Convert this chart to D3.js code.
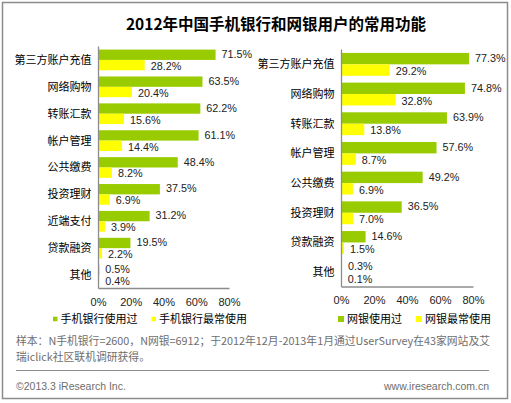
<!DOCTYPE html>
<html>
<head>
<meta charset="utf-8">
<script src="https://cdn.jsdelivr.net/npm/d3@7"></script>
<style>
  body { margin: 0; background: #fff; }
  svg text { font-family: "Liberation Sans", "Noto Sans CJK SC", sans-serif; }
  .cjk { font-family: "Noto Sans CJK SC", "Liberation Sans", sans-serif; }
</style>
</head>
<body>
<div id="chart"></div>
<script>
// chart data
var title = "2012年中国手机银行和网银用户的常用功能";

var mobileCats = ["第三方账户充值","网络购物","转账汇款","帐户管理","公共缴费","投资理财","近端支付","贷款融资","其他"];
var mobileUsed = [71.5, 63.5, 62.2, 61.1, 48.4, 37.5, 31.2, 19.5, 0.5];
var mobileMost = [28.2, 20.4, 15.6, 14.4, 8.2, 6.9, 3.9, 2.2, 0.4];
var mobileSeries = ["手机银行使用过","手机银行最常使用"];

var webCats = ["第三方账户充值","网络购物","转账汇款","帐户管理","公共缴费","投资理财","贷款融资","其他"];
var webUsed = [77.3, 74.8, 63.9, 57.6, 49.2, 36.5, 14.6, 0.3];
var webMost = [29.2, 32.8, 13.8, 8.7, 6.9, 7.0, 1.5, 0.1];
var webSeries = ["网银使用过","网银最常使用"];

var xTicks = [0, 20, 40, 60, 80];
var note1 = "样本：N手机银行=2600，N网银=6912；于2012年12月-2013年1月通过UserSurvey在43家网站及艾";
var note2 = "瑞iclick社区联机调研获得。";
var copyright = "©2013.3 iResearch Inc.";
var site = "www.iresearch.com.cn";

var colors = ["#99cc00", "#ffff00"];
var axisColor = "#8c8c8c";

var W = 511, H = 403;
var svg = d3.select("#chart").append("svg")
  .attr("width", W)
  .attr("height", H);

// outer frame
svg.append("rect")
  .attr("x", 2.5).attr("y", 2.5)
  .attr("width", 505).attr("height", 396)
  .attr("fill", "#fff")
  .attr("stroke", "#8c8c8c")
  .attr("stroke-width", 1.5);

svg.append("text")
  .attr("class", "cjk")
  .attr("x", 276).attr("y", 30)
  .attr("text-anchor", "middle")
  .attr("font-size", 15.5)
  .attr("font-weight", "bold")
  .attr("fill", "#000")
  .text(title);

// draws one bar panel
function drawPanel(opt) {
  var g = svg.append("g");
  var x = d3.scaleLinear().domain([0, 80]).range([opt.x0, opt.x1]);
  var y = d3.scaleBand().domain(opt.cats).range([opt.y0, opt.y1])
    .paddingInner(0.23).paddingOuter(0.115);
  var sub = d3.scaleBand().domain([0, 1]).range([0, y.bandwidth()]);

  var rows = opt.cats.map(function(c, i) {
    return {cat: c, vals: [opt.used[i], opt.most[i]]};
  });

  var grp = g.selectAll("g.row").data(rows).enter()
    .append("g").attr("class", "row")
    .attr("transform", function(d) { return "translate(0," + y(d.cat) + ")"; });

  grp.selectAll("rect").data(function(d) { return d.vals; }).enter()
    .append("rect")
    .attr("x", x(0))
    .attr("y", function(d, i) { return sub(i); })
    .attr("width", function(d) { return x(d) - x(0); })
    .attr("height", sub.bandwidth())
    .attr("fill", function(d, i) { return colors[i]; });

  // value labels, nudged apart a little so the pair never collides
  grp.selectAll("text.val").data(function(d) { return d.vals; }).enter()
    .append("text").attr("class", "val")
    .attr("x", function(d) { return x(d) + 6; })
    .attr("y", function(d, i) { return sub(i) + sub.bandwidth() / 2 + 4 + (i ? 0.8 : -0.8); })
    .attr("font-size", 10.8)
    .attr("fill", "#222")
    .text(function(d) { return d.toFixed(1) + "%"; });

  // category labels
  grp.append("text")
    .attr("class", "cjk")
    .attr("x", x(0) - 7)
    .attr("y", y.bandwidth() / 2 + 4)
    .attr("text-anchor", "end")
    .attr("font-size", 11)
    .attr("fill", "#000")
    .text(function(d) { return d.cat; });

  // axes lines
  g.append("line")
    .attr("x1", x(0)).attr("x2", x(0))
    .attr("y1", opt.y0).attr("y2", opt.y1)
    .attr("stroke", axisColor).attr("stroke-width", 1.3);
  g.append("line")
    .attr("x1", x(0)).attr("x2", x(80))
    .attr("y1", opt.y1).attr("y2", opt.y1)
    .attr("stroke", axisColor).attr("stroke-width", 1.3);

  g.selectAll("text.tick").data(xTicks).enter()
    .append("text").attr("class", "tick")
    .attr("x", function(d) { return x(d); })
    .attr("y", opt.y1 + 17)
    .attr("text-anchor", "middle")
    .attr("font-size", 11)
    .attr("fill", "#222")
    .text(function(d) { return d + "%"; });

  // legend
  var lx = opt.legendX;
  opt.series.forEach(function(s, i) {
    svg.append("rect")
      .attr("x", lx).attr("y", opt.legendY - opt.sq / 2 - 1)
      .attr("width", opt.sq).attr("height", opt.sq)
      .attr("fill", colors[i]);
    var t = svg.append("text")
      .attr("class", "cjk")
      .attr("x", lx + opt.sq + 3)
      .attr("y", opt.legendY + 3)
      .attr("font-size", 11)
      .attr("fill", "#000")
      .text(s);
    lx += opt.sq + 3 + t.node().getComputedTextLength() + 14;
  });
}

drawPanel({
  cats: mobileCats, used: mobileUsed, most: mobileMost, series: mobileSeries,
  x0: 98.5, x1: 229.5, y0: 46.5, y1: 288.5,
  legendX: 53, legendY: 320, sq: 4.5
});

drawPanel({
  cats: webCats, used: webUsed, most: webMost, series: webSeries,
  x0: 341.5, x1: 473.5, y0: 49.5, y1: 287,
  legendX: 338, legendY: 320, sq: 6
});

// footer
svg.append("text").attr("class", "cjk")
  .attr("x", 16).attr("y", 345)
  .attr("font-size", 10.8).attr("fill", "#6e6e6e")
  .text(note1);
svg.append("text").attr("class", "cjk")
  .attr("x", 16).attr("y", 361)
  .attr("font-size", 10.8).attr("fill", "#6e6e6e")
  .text(note2);

svg.append("line")
  .attr("x1", 16).attr("x2", 489)
  .attr("y1", 370.5).attr("y2", 370.5)
  .attr("stroke", "#8c8c8c").attr("stroke-width", 1);

svg.append("text")
  .attr("x", 16).attr("y", 389.5)
  .attr("font-size", 10.5).attr("fill", "#6e6e6e")
  .text(copyright);
svg.append("text")
  .attr("x", 489).attr("y", 389.5)
  .attr("text-anchor", "end")
  .attr("font-size", 10.5).attr("fill", "#6e6e6e")
  .text(site);
</script>
</body>
</html>
